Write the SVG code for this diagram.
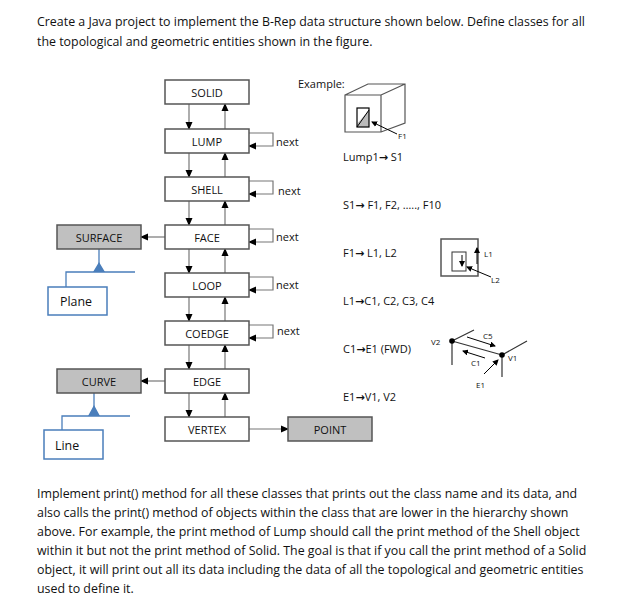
<svg xmlns="http://www.w3.org/2000/svg" width="642" height="600" viewBox="0 0 642 600">
<style>
text{font-family:"Open Sans","Liberation Sans",sans-serif;fill:#111}
.p{font-size:12.4px}
.b{font-size:11px}
.s{font-size:8px}
.ar{font-family:"DejaVu Sans",sans-serif;font-weight:bold}
.box{fill:#fff;stroke:#555;stroke-width:1.5}
.g{fill:#c0c0c0;stroke:#555;stroke-width:1.5}
.bl{fill:#fff;stroke:#4a7ebb;stroke-width:1.5}
.c{stroke:#777;stroke-width:1.2;fill:none}
.k{stroke:#000;stroke-width:1;fill:none}
</style>
<defs>
<marker id="a" markerWidth="8" markerHeight="8" refX="7" refY="4" orient="auto" markerUnits="userSpaceOnUse"><path d="M0,0.5L8,4L0,7.5z" fill="#000"/></marker>
<marker id="sm" markerWidth="6" markerHeight="6" refX="5" refY="3" orient="auto" markerUnits="userSpaceOnUse"><path d="M0,0L6,3L0,6z" fill="#000"/></marker>
</defs>
<text class="p" x="37" y="26">Create a Java project to implement the B-Rep data structure shown below. Define classes for all</text>
<text class="p" x="37" y="46">the topological and geometric entities shown in the figure.</text>
<g id="connectors">
<path class="c" marker-end="url(#a)" d="M189,104V129"/><path class="c" marker-end="url(#a)" d="M189,153V177"/>
<path class="c" marker-end="url(#a)" d="M189,201V225"/><path class="c" marker-end="url(#a)" d="M189,249V273"/>
<path class="c" marker-end="url(#a)" d="M189,297V321"/><path class="c" marker-end="url(#a)" d="M189,345V369"/>
<path class="c" marker-end="url(#a)" d="M189,393V417"/>
<path class="c" marker-end="url(#a)" d="M225,129V104"/><path class="c" marker-end="url(#a)" d="M225,177V153"/>
<path class="c" marker-end="url(#a)" d="M225,225V201"/><path class="c" marker-end="url(#a)" d="M225,273V249"/>
<path class="c" marker-end="url(#a)" d="M225,321V297"/><path class="c" marker-end="url(#a)" d="M225,369V345"/>
<path class="c" marker-end="url(#a)" d="M225,417V393"/>
<path class="c" marker-end="url(#a)" d="M165,237H141"/><path class="c" marker-end="url(#a)" d="M165,381H141"/>
<path class="c" marker-end="url(#a)" d="M249,429H288"/>
<path class="c" marker-end="url(#a)" d="M249,133H273V146H249"/><path class="c" marker-end="url(#a)" d="M249,181H273V194H249"/>
<path class="c" marker-end="url(#a)" d="M249,229H273V242H249"/><path class="c" marker-end="url(#a)" d="M249,277H273V290H249"/>
<path class="c" marker-end="url(#a)" d="M249,325H273V338H249"/>
<path d="M99,249V272M66,287V272H135M94,393V416M62,430V416H130" stroke="#4a7ebb" stroke-width="1.3" fill="none"/>
<path d="M99,262L105,272H93z M94,405L100,416H88z" fill="#4a7ebb"/>
</g>
<text class="b" x="276" y="146">next</text>
<text class="b" x="278" y="195">next</text>
<text class="b" x="276" y="241">next</text>
<text class="b" x="276" y="289">next</text>
<text class="b" x="277" y="335">next</text>
<g id="solid"><rect class="box" x="165" y="80" width="84" height="24"/><text class="b" x="207" y="97" text-anchor="middle">SOLID</text></g>
<g id="lump"><rect class="box" x="165" y="129" width="84" height="24"/><text class="b" x="207" y="146" text-anchor="middle">LUMP</text></g>
<g id="shell"><rect class="box" x="165" y="177" width="84" height="24"/><text class="b" x="207" y="194" text-anchor="middle">SHELL</text></g>
<g id="face"><rect class="box" x="165" y="225" width="84" height="24"/><text class="b" x="207" y="242" text-anchor="middle">FACE</text></g>
<g id="loop"><rect class="box" x="165" y="273" width="84" height="24"/><text class="b" x="207" y="290" text-anchor="middle">LOOP</text></g>
<g id="coedge"><rect class="box" x="165" y="321" width="84" height="24"/><text class="b" x="207" y="338" text-anchor="middle">COEDGE</text></g>
<g id="edge"><rect class="box" x="165" y="369" width="84" height="24"/><text class="b" x="207" y="386" text-anchor="middle">EDGE</text></g>
<g id="vertex"><rect class="box" x="165" y="417" width="84" height="24"/><text class="b" x="207" y="434" text-anchor="middle">VERTEX</text></g>
<g id="surface"><rect class="g" x="57" y="225" width="84" height="24"/><text class="b" x="99" y="242" text-anchor="middle">SURFACE</text></g>
<g id="curve"><rect class="g" x="57" y="369" width="84" height="24"/><text class="b" x="99" y="386" text-anchor="middle">CURVE</text></g>
<g id="point"><rect class="g" x="288" y="417" width="84" height="24"/><text class="b" x="330" y="434" text-anchor="middle">POINT</text></g>
<g id="plane"><rect class="bl" x="48" y="287" width="59" height="28"/><text class="p" x="60" y="306">Plane</text></g>
<g id="line"><rect class="bl" x="44" y="430" width="59" height="29"/><text class="p" x="55" y="450">Line</text></g>
<text class="b" x="298" y="88">Example:</text>
<g id="cube">
<path d="M345,95L368,84H405V123L381,132H345z M345,95H381V132 M381,95L405,84" fill="#fff" stroke="#555" stroke-width="1.2"/>
<path d="M357,124L369,110V127H357z" fill="#bbb"/>
<rect x="357" y="108" width="12" height="19" fill="none" stroke="#000" stroke-width="1.2"/>
<path d="M357,127L369,110" stroke="#000"/>
<path class="k" marker-end="url(#sm)" d="M397,134L372,122"/>
<text class="s" x="398" y="139">F1</text>
</g>
<text class="b" x="343" y="161">Lump1<tspan class="ar">→</tspan> S1</text>
<text class="b" x="343" y="209">S1<tspan class="ar">→</tspan> F1, F2, ….., F10</text>
<text class="b" x="343" y="257">F1<tspan class="ar">→</tspan> L1, L2</text>
<text class="b" x="343" y="305">L1<tspan class="ar">→</tspan>C1, C2, C3, C4</text>
<text class="b" x="343" y="353">C1<tspan class="ar">→</tspan>E1 (FWD)</text>
<text class="b" x="343" y="401">E1<tspan class="ar">→</tspan>V1, V2</text>
<g id="loopfig">
<rect x="441" y="239" width="37" height="37" fill="#fff" stroke="#555" stroke-width="1.5"/>
<rect x="452" y="252" width="14" height="19" fill="none" stroke="#333"/>
<path class="k" marker-end="url(#sm)" d="M477,264V248"/>
<path class="k" marker-end="url(#sm)" d="M462,255V266"/>
<path class="k" marker-end="url(#sm)" d="M491,277L467,267"/>
<text class="s" x="484" y="257">L1</text>
<text class="s" x="491" y="283">L2</text>
</g>
<g id="edgefig">
<path d="M452,341L474,330M452,341V365M502,355L527,341M502,355V377M452,341L502,355" stroke="#333" stroke-width="1.2" fill="none"/>
<circle cx="452" cy="341" r="2.8"/><circle cx="502" cy="355" r="2.8"/>
<path class="k" marker-end="url(#sm)" d="M467,337L495,346"/>
<path class="k" marker-end="url(#sm)" d="M485,358L463,351"/>
<path class="k" marker-end="url(#sm)" d="M484,374L498,360"/>
<text class="s" x="431" y="345">V2</text>
<text class="s" x="483" y="339">C5</text>
<text class="s" x="471" y="366">C1</text>
<text class="s" x="508" y="361">V1</text>
<text class="s" x="476" y="388">E1</text>
</g>
<text class="p" x="37" y="498">Implement print() method for all these classes that prints out the class name and its data, and</text>
<text class="p" x="37" y="517">also calls the print() method of objects within the class that are lower in the hierarchy shown</text>
<text class="p" x="37" y="536">above. For example, the print method of Lump should call the print method of the Shell object</text>
<text class="p" x="37" y="555">within it but not the print method of Solid. The goal is that if you call the print method of a Solid</text>
<text class="p" x="37" y="574">object, it will print out all its data including the data of all the topological and geometric entities</text>
<text class="p" x="37" y="593">used to define it.</text>
</svg>
